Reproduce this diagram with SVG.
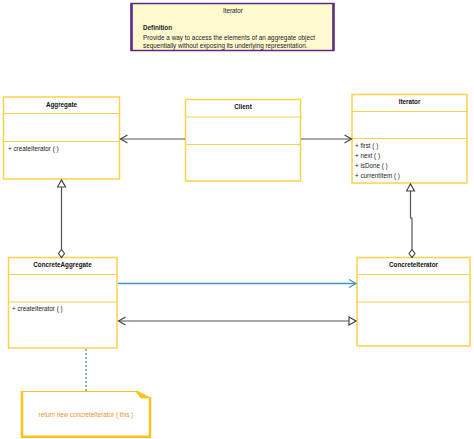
<svg xmlns="http://www.w3.org/2000/svg" width="474" height="439" viewBox="0 0 474 439">
<defs>
<style>
.box{fill:#fff;stroke:#fbd249;stroke-width:1.5}
.div{stroke:#fbd249;stroke-width:1.2}
.t{font-family:"Liberation Sans",Arial,sans-serif;font-size:6.3px;fill:#222}
.h{font-family:"Liberation Sans",Arial,sans-serif;font-size:6.3px;font-weight:bold;fill:#111;text-anchor:middle}
.c{fill:none;stroke:#555;stroke-width:1.2}
</style>
<marker id="open" markerWidth="10" markerHeight="10" refX="8" refY="5" orient="auto-start-reverse" markerUnits="userSpaceOnUse">
<path d="M1,1 L8,5 L1,9" fill="none" stroke="#444" stroke-width="1.2"/>
</marker>
<marker id="openb" markerWidth="10" markerHeight="10" refX="8" refY="5" orient="auto" markerUnits="userSpaceOnUse">
<path d="M1,1 L8,5 L1,9" fill="none" stroke="#4a8ec4" stroke-width="1.2"/>
</marker>
<marker id="tri" markerWidth="10" markerHeight="10" refX="8" refY="5" orient="auto" markerUnits="userSpaceOnUse">
<path d="M1,1 L8,5 L1,9 Z" fill="#fff" stroke="#444" stroke-width="1.2"/>
</marker>
<marker id="dia" markerWidth="10" markerHeight="8" refX="9" refY="4" orient="auto" markerUnits="userSpaceOnUse">
<path d="M1,4 L5,1 L9,4 L5,7 Z" fill="#fff" stroke="#444" stroke-width="1.1"/>
</marker>
</defs>

<g id="definition">
<rect x="131.5" y="3.5" width="202" height="47" fill="#fff9cf" stroke="#5a2d82" stroke-width="1.5"/>
<line x1="131.5" y1="3" x2="131.5" y2="51" stroke="#5a2d82" stroke-width="2.5"/>
<line x1="333.5" y1="3" x2="333.5" y2="51" stroke="#5a2d82" stroke-width="2.5"/>
<text x="233" y="13" class="t" text-anchor="middle">Iterator</text>
<text x="143" y="30" class="t" style="font-weight:bold">Definition</text>
<text x="143" y="39.5" class="t" textLength="172">Provide a way to access the elements of an aggregate object</text>
<text x="143" y="48" class="t">sequentially without exposing its underlying representation.</text>
</g>

<g id="Aggregate">
<rect class="box" x="3.5" y="97" width="116" height="82"/>
<line class="div" x1="3.5" y1="113.5" x2="119.5" y2="113.5"/>
<line class="div" x1="3.5" y1="141.5" x2="119.5" y2="141.5"/>
<text class="h" x="61.5" y="106.5">Aggregate</text>
<text class="t" x="8" y="150.5">+ createIterator ( )</text>
</g>

<g id="Client">
<rect class="box" x="185.5" y="99.5" width="115" height="81.5"/>
<line class="div" x1="185.5" y1="117" x2="300.5" y2="117"/>
<line class="div" x1="185.5" y1="144.5" x2="300.5" y2="144.5"/>
<text class="h" x="243" y="108.5">Client</text>
</g>

<g id="Iterator">
<rect class="box" x="352" y="94.5" width="115" height="88.5"/>
<line class="div" x1="352" y1="111.5" x2="467" y2="111.5"/>
<line class="div" x1="352" y1="138.5" x2="467" y2="138.5"/>
<text class="h" x="409.5" y="103.5">Iterator</text>
<text class="t" x="355" y="148">+ first ( )</text>
<text class="t" x="355" y="158">+ next ( )</text>
<text class="t" x="355" y="168">+ isDone ( )</text>
<text class="t" x="355" y="178">+ currentItem ( )</text>
</g>

<g id="ConcreteAggregate">
<rect class="box" x="8.5" y="257.5" width="108.5" height="90.5"/>
<line class="div" x1="8.5" y1="274.5" x2="117" y2="274.5"/>
<line class="div" x1="8.5" y1="302" x2="117" y2="302"/>
<text class="h" x="62.5" y="266.5">ConcreteAggregate</text>
<text class="t" x="12" y="311">+ createIterator ( )</text>
</g>

<g id="ConcreteIterator">
<rect class="box" x="357" y="257.5" width="113" height="88.5"/>
<line class="div" x1="357" y1="274.5" x2="470" y2="274.5"/>
<line class="div" x1="357" y1="302" x2="470" y2="302"/>
<text class="h" x="413.5" y="266.5">ConcreteIterator</text>
</g>

<g id="note">
<path d="M21.5,391.5 L138,391.5 L150,398 L150,436.5 L21.5,436.5 Z" fill="#fff" stroke="#fbc21c" stroke-width="1.2"/>
<line x1="22" y1="391" x2="22" y2="437.5" stroke="#fbc21c" stroke-width="2.5"/>
<line x1="21" y1="436.8" x2="151" y2="436.8" stroke="#fbc21c" stroke-width="2.5"/>
<line x1="150" y1="397" x2="150" y2="437.5" stroke="#fbc21c" stroke-width="2.5"/>
<path d="M136,391.5 L150,398 L141,398 Z" fill="#fbc21c" stroke="#fbc21c" stroke-width="0.8"/>
<text x="86" y="416.5" class="t" text-anchor="middle" style="fill:#e8912c">return new concreteIterator ( this )</text>
</g>

<g id="connectors">
<line class="c" x1="185" y1="139" x2="120.5" y2="139" marker-end="url(#open)"/>
<line class="c" x1="301" y1="139" x2="351.5" y2="139" marker-end="url(#open)"/>
<line class="c" x1="61.5" y1="252" x2="61.5" y2="180" marker-end="url(#tri)"/>
<line class="c" x1="61.5" y1="250" x2="61.5" y2="257.5" marker-end="url(#dia)"/>
<polyline class="c" points="412,252 412,218 410.5,218 410.5,184" marker-end="url(#tri)"/>
<line class="c" x1="412" y1="250" x2="412" y2="257.5" marker-end="url(#dia)"/>
<line x1="118" y1="283.5" x2="356" y2="283.5" stroke="#4a8ec4" stroke-width="1.3" marker-end="url(#openb)"/>
<line class="c" x1="118.5" y1="321" x2="356" y2="321" marker-start="url(#open)" marker-end="url(#tri)"/>
<line x1="86" y1="349" x2="86" y2="391" stroke="#4a8ec4" stroke-width="1.3" stroke-dasharray="2,2"/>
</g>
</svg>
